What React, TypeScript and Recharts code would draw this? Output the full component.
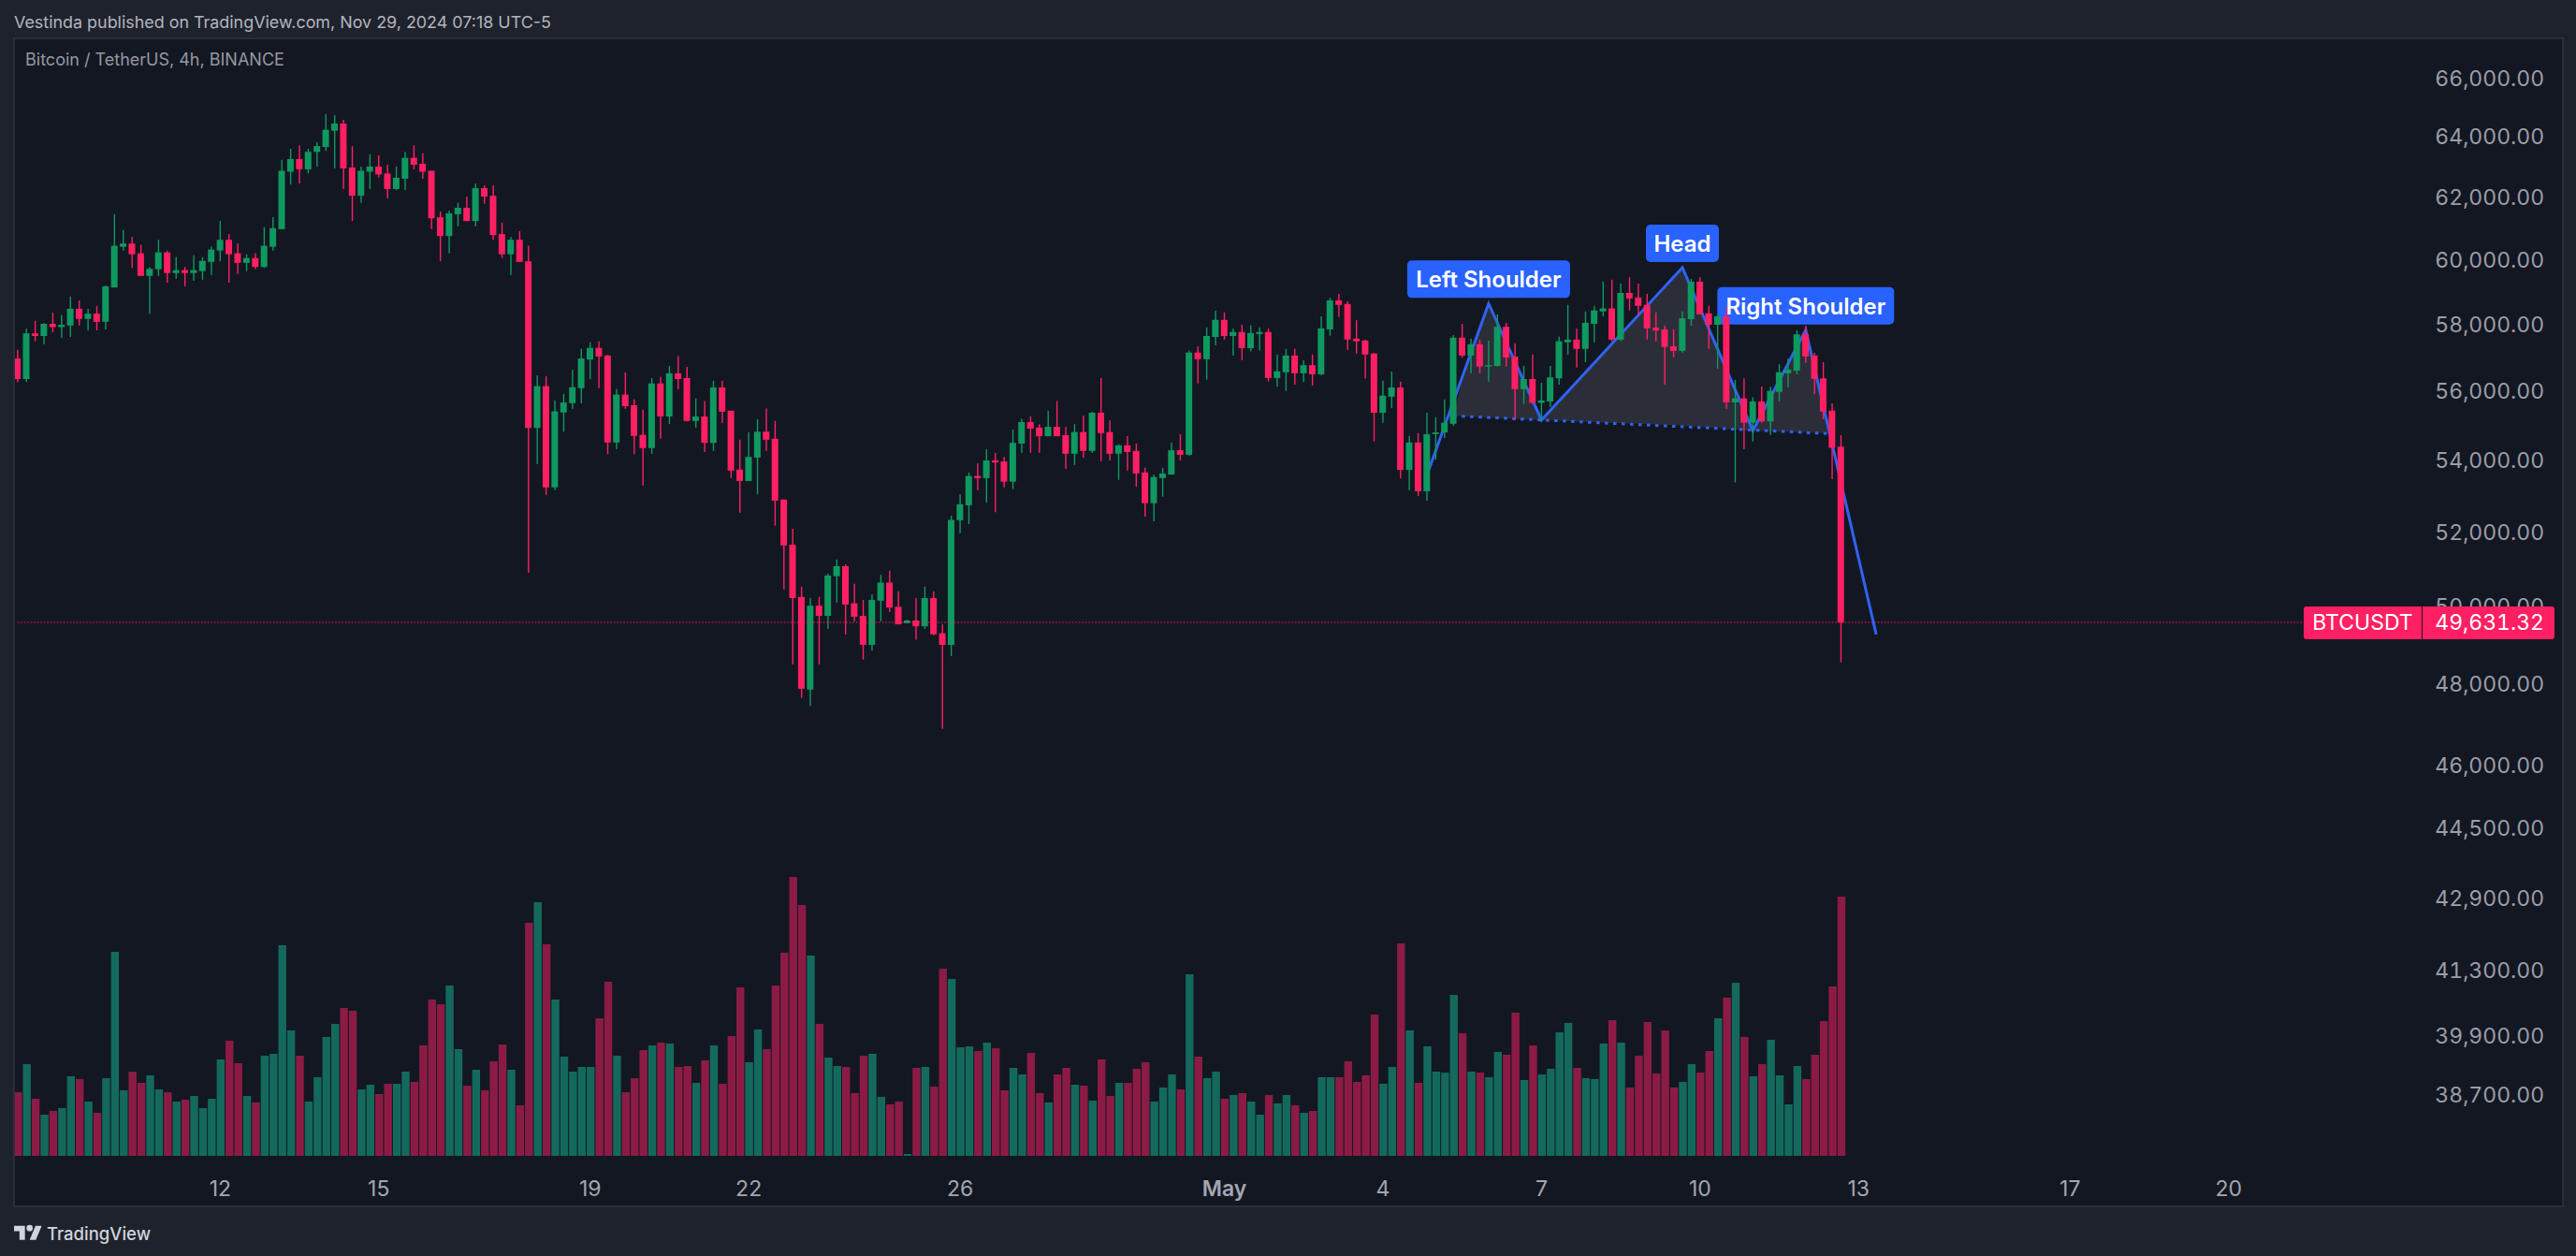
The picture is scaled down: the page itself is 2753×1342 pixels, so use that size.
import React from 'react';
import {
  ComposedChart,
  Bar,
  Line,
  Area,
  Cell,
  XAxis,
  YAxis,
  ReferenceLine,
  ReferenceDot,
} from 'recharts';

const opens = [
  57010, 56400, 57770, 57690, 58060, 57960, 58010, 58520, 58210, 58370,
  58120, 59180, 60460, 60560, 60250, 59540, 59750, 60280, 59630, 59720,
  59630, 59690, 59980, 60340, 60680, 60250, 59950, 60100, 59820, 60460,
  61020, 62890, 63310, 62970, 63550, 63710, 64260, 64500, 63030, 62100,
  62890, 63060, 62830, 62320, 62660, 63350, 63150, 62920, 61400, 60800,
  61500, 61710, 61280, 62350, 62100, 60860, 60220, 60680, 60000, 54970,
  56190, 53280, 55420, 55690, 56130, 56980, 57330, 57100, 54550, 55940,
  55630, 54770, 54390, 56270, 55300, 56570, 56430, 55170, 55300, 54540,
  56150, 55470, 53780, 53460, 54120, 54860, 54660, 52940, 51700, 50300,
  47910, 50070, 49800, 50850, 51120, 50130, 49800, 49050, 50200, 50680,
  50040, 49610, 49680, 49530, 50270, 49350, 49050, 52370, 52780, 53600,
  53540, 54040, 54010, 53440, 54520, 55140, 54980, 54730, 55000, 54760,
  54230, 54850, 54310, 55410, 54850, 54230, 54470, 54310, 53700, 52840,
  53540, 53640, 54330, 54200, 57190, 56990, 57660, 58180, 57690, 57810,
  57320, 57750, 57810, 56430, 56600, 57100, 56570, 56810, 56540, 57890,
  58780, 58670, 57610, 57550, 57160, 55410, 55880, 56150, 53770, 54550,
  53170, 54790, 54840, 55090, 57640, 57100, 57440, 56770, 56790, 57970,
  57070, 56100, 56400, 55700, 55740, 56420, 57500, 57580, 57300, 58060,
  58440, 58530, 57580, 59010, 58870, 58640, 57940, 57890, 57380, 57240,
  58200, 59360, 58380, 58030, 58290, 55710, 55830, 55120, 55740, 55160,
  56020, 56570, 56650, 57740, 57100, 56420, 55470, 54430,
];

const highs = [
  57270, 57920, 58150, 58080, 58400, 58330, 58900, 58780, 58520, 58610,
  59240, 61500, 60990, 60770, 60520, 59820, 60680, 60340, 60130, 59820,
  60190, 60130, 60460, 61280, 60860, 60560, 60220, 60250, 61080, 61410,
  63280, 63650, 63770, 63650, 63870, 64830, 64790, 64630, 63740, 63060,
  63470, 63440, 63120, 63060, 63550, 63770, 63500, 62920, 61590, 61620,
  61870, 62070, 62500, 62440, 62440, 61230, 60770, 60960, 60490, 56510,
  56480, 55770, 55960, 56680, 57300, 57500, 57530, 57130, 56100, 56600,
  55800, 55500, 56430, 56460, 56790, 57080, 56760, 55830, 55750, 56350,
  56350, 55470, 54630, 54850, 55220, 55530, 55170, 52940, 52130, 50570,
  50270, 50300, 50920, 51300, 51170, 50650, 50220, 50370, 50890, 51000,
  50450, 49700, 50270, 50570, 50450, 49580, 52490, 53090, 53700, 53960,
  54360, 54250, 54140, 54920, 55240, 55300, 55080, 55470, 55750, 55000,
  55080, 55330, 55440, 56430, 55190, 54500, 54730, 54520, 53830, 53640,
  53830, 54550, 54790, 57250, 57380, 57950, 58460, 58410, 57920, 58030,
  58010, 57950, 57920, 57130, 57300, 57300, 56960, 57130, 58290, 58860,
  58980, 58750, 58170, 57580, 57180, 56350, 56620, 56320, 54740, 54820,
  55410, 55280, 55800, 57720, 58060, 57610, 57580, 57550, 58350, 58090,
  57470, 56790, 57130, 56290, 56790, 57670, 58640, 57920, 58440, 58610,
  59360, 59420, 59300, 59500, 59300, 58980, 58410, 58000, 57890, 58440,
  59450, 59500, 58610, 58320, 58580, 56380, 56420, 55860, 56180, 56180,
  56840, 57010, 57860, 58000, 57180, 56900, 55680, 54760,
];

const lows = [
  56310, 56310, 57530, 57440, 57800, 57630, 57660, 58010, 57860, 57860,
  57890, 59180, 60340, 59790, 59540, 58370, 59540, 59330, 59450, 59210,
  59390, 59420, 59570, 60000, 59330, 59600, 59690, 59750, 59790, 60340,
  61020, 62470, 62500, 62830, 63060, 63580, 63000, 62320, 61280, 61870,
  62320, 62700, 62010, 62290, 62290, 62970, 62660, 61020, 60000, 60250,
  61110, 61280, 61110, 61840, 60680, 60100, 59570, 59980, 50940, 53940,
  53070, 53200, 54860, 55520, 55690, 56400, 56130, 54220, 54360, 55520,
  54220, 53330, 54230, 54660, 55080, 56100, 55160, 54980, 54280, 54310,
  55110, 53540, 52570, 53460, 53090, 54310, 52220, 50500, 48550, 47700,
  47500, 48550, 49460, 50150, 49320, 49660, 48670, 48900, 49660, 49900,
  49580, 49610, 49180, 49460, 49300, 46930, 48760, 52010, 52260, 53200,
  52860, 52590, 53280, 53230, 54250, 54250, 54250, 54730, 54730, 53800,
  53910, 54120, 54250, 54010, 54040, 53490, 53750, 53300, 52470, 52340,
  53020, 53640, 54040, 54170, 56270, 56380, 57410, 57580, 57100, 56960,
  57220, 57250, 56330, 56180, 56050, 56230, 56310, 56210, 56510, 57700,
  58270, 57270, 57160, 56420, 54580, 55120, 55550, 53530, 53200, 53040,
  52910, 54060, 54680, 55030, 57040, 56570, 56570, 56320, 56770, 56770,
  55190, 55670, 55670, 55160, 55580, 56230, 57130, 56740, 56900, 57500,
  58290, 57530, 57530, 58470, 58320, 57580, 57530, 56230, 57040, 57190,
  58000, 58350, 57300, 56710, 55520, 53420, 54360, 54580, 55120, 54770,
  55740, 56150, 56540, 56880, 55960, 55220, 53510, 48600,
];

const closes = [
  56400, 57770, 57690, 58060, 57960, 58030, 58520, 58210, 58370, 58120,
  59210, 60490, 60560, 60220, 59540, 59760, 60280, 59630, 59720, 59630,
  59720, 60010, 60370, 60680, 60220, 59950, 60100, 59820, 60490, 61050,
  62920, 63310, 62970, 63550, 63740, 64290, 64500, 63000, 62100, 62920,
  63060, 62800, 62320, 62690, 63350, 63120, 62890, 61370, 60800, 61530,
  61710, 61280, 62350, 62070, 60830, 60220, 60680, 59980, 54970, 56190,
  53280, 55450, 55710, 56160, 57010, 57330, 57070, 54550, 55940, 55600,
  54740, 54390, 56270, 55300, 56570, 56400, 55170, 55300, 54540, 56150,
  55440, 53750, 53460, 54140, 54860, 54630, 52910, 51680, 50270, 47930,
  50070, 49800, 50870, 51120, 50100, 49780, 49050, 50220, 50680, 50020,
  49580, 49680, 49530, 50270, 49320, 49050, 52380, 52810, 53600, 53540,
  54040, 53980, 53440, 54540, 55140, 54950, 54730, 55000, 54730, 54230,
  54850, 54310, 55410, 54820, 54230, 54470, 54280, 53670, 52840, 53570,
  53670, 54330, 54200, 57190, 56990, 57690, 58180, 57690, 57810, 57320,
  57780, 57810, 56430, 56630, 57100, 56570, 56810, 56540, 57920, 58780,
  58640, 57580, 57530, 57130, 55410, 55910, 56150, 53770, 54550, 53170,
  54790, 54840, 55120, 57640, 57100, 57440, 56770, 56810, 57970, 57040,
  56100, 56400, 55700, 55770, 56450, 57530, 57580, 57300, 58090, 58470,
  58530, 57580, 59010, 58840, 58610, 57920, 57860, 57360, 57240, 58230,
  59360, 58350, 58030, 58290, 55710, 55830, 55120, 55740, 55160, 56050,
  56600, 56680, 57740, 57070, 56400, 55440, 54400, 49631.32,
];

// hundreds of BTC
const volumes = [
  204, 294, 183, 132, 144, 153, 255, 246, 174, 138,
  249, 654, 210, 270, 234, 258, 213, 204, 174, 180,
  192, 153, 183, 309, 369, 297, 192, 171, 321, 327,
  675, 402, 321, 174, 252, 381, 423, 474, 465, 213,
  228, 198, 231, 231, 270, 237, 354, 501, 486, 546,
  342, 225, 276, 210, 303, 357, 276, 162, 747, 813,
  678, 501, 318, 270, 285, 285, 441, 558, 321, 204,
  249, 339, 354, 363, 360, 285, 288, 234, 306, 354,
  231, 384, 540, 300, 405, 342, 546, 651, 894, 804,
  642, 423, 315, 288, 285, 201, 321, 327, 189, 165,
  174, 6, 282, 285, 222, 600, 567, 348, 351, 336,
  363, 345, 210, 282, 261, 330, 201, 171, 261, 282,
  228, 225, 177, 309, 192, 234, 234, 279, 300, 174,
  219, 261, 213, 582, 318, 249, 270, 183, 195, 201,
  174, 132, 195, 168, 195, 162, 138, 144, 252, 252,
  252, 303, 237, 258, 453, 231, 285, 681, 402, 234,
  351, 270, 267, 516, 393, 270, 267, 252, 333, 324,
  459, 243, 354, 261, 279, 396, 426, 282, 249, 246,
  360, 435, 363, 219, 321, 429, 264, 402, 219, 237,
  294, 267, 336, 441, 507, 555, 381, 255, 294, 372,
  258, 165, 288, 246, 324, 432, 543, 831,
];

const priceTicks = [66000, 64000, 62000, 60000, 58000, 56000, 54000, 52000, 50000, 48000, 46000, 44500, 42900, 41300, 39900, 38700];
const timeSlots = [23, 41, 65, 83, 107, 137, 155, 173, 191, 209, 233, 251];
const timeLabels = ['12', '15', '19', '22', '26', 'May', '4', '7', '10', '13', '17', '20'];

// head and shoulders drawing, [bar, price]
const patternPoints = [[160, 53625], [167, 58680], [173, 55200], [189, 59800], [197, 54890], [203, 57870], [211, 49320]];
const necklinePoints = [[163, 55320], [206, 54800]];
const shadePoints = [
  [163, 55320, 55320],
  [164, 55310, 56410],
  [167, 55270, 58680],
  [173, 55200, 55200],
  [189, 55040, 59800],
  [197, 54890, 54890],
  [203, 54850, 57870],
  [205, 54820, 55600],
  [206, 54800, 54800],
];
const patternLabels = [
  { slot: 167, price: 58680, text: 'Left Shoulder', width: 174 },
  { slot: 189, price: 59800, text: 'Head', width: 78 },
  { slot: 203, price: 57870, text: 'Right Shoulder', width: 189 },
];

const SLOTS = 290;
const LAST_PRICE = 49631.32;
const UP = '#0f9960';
const DOWN = '#ff1f62';
const VOL_UP = '#136a5c';
const VOL_DOWN = '#8b1b45';
const BLUE = '#2f63f5';
const FONT = 'Inter, "Noto Sans", sans-serif';

const rows = Array.from({ length: SLOTS }, (_, i) => {
  const row: any = { slot: i };
  if (i < opens.length) {
    row.body = [Math.min(opens[i], closes[i]), Math.max(opens[i], closes[i])];
    row.wick = [lows[i], highs[i]];
    row.volume = volumes[i];
    row.up = closes[i] >= opens[i];
  }
  return row;
});
patternPoints.forEach(([s, p]) => { rows[s].pattern = p; });
necklinePoints.forEach(([s, p]) => { rows[s].neck = p; });
shadePoints.forEach(([s, a, b]) => { rows[s].shade = [a, b]; });

const PriceTick = ({ x, y, payload }: any) => (
  <text x={x - 17} y={y + 6.5} textAnchor="end" fontSize={23} fontFamily={FONT} fill="#9b9ea8" style={{ fontVariantNumeric: 'tabular-nums' }}>
    {payload.value.toLocaleString('en-US', { minimumFractionDigits: 2 })}
  </text>
);

const TimeTick = ({ x, y, payload }: any) => {
  const label = timeLabels[timeSlots.indexOf(payload.value)];
  return (
    <text x={x} y={y + 35} textAnchor="middle" fontSize={23} fontWeight={label === 'May' ? 600 : 400} fontFamily={FONT} fill="#a3a6b0">
      {label}
    </text>
  );
};

const labelShape = (text: string, width: number) => ({ cx, cy }: any) => (
  <g>
    <rect x={cx - width / 2} y={cy - 46} width={width} height={40} rx={5} fill="#2962ff" />
    <text x={cx} y={cy - 17} textAnchor="middle" fontSize={24} fontWeight={600} fontFamily={FONT} fill="#ffffff">
      {text}
    </text>
  </g>
);

const box = (left: number, top: number, width: number, height: number, extra = {}): React.CSSProperties => ({
  position: 'absolute', left, top, width, height, ...extra,
});

const App = () => (
  <div style={box(0, 0, 2753, 1342, { background: '#1e222d', overflow: 'hidden', fontFamily: FONT })}>
    <div style={box(15, 41, 2723, 1247, { background: '#131722' })} />

    <div style={{ position: 'absolute', left: 0, top: 0 }}>
      <ComposedChart
        width={2753}
        height={1342}
        data={rows}
        margin={{ top: 42, right: 8.9, bottom: 54, left: 14.1 }}
        barCategoryGap={0}
      >
        <XAxis
          xAxisId="main"
          dataKey="slot"
          height={53}
          ticks={timeSlots}
          interval={0}
          axisLine={false}
          tickLine={false}
          tick={<TimeTick />}
        />
        <XAxis xAxisId="wick" dataKey="slot" hide />
        <XAxis xAxisId="vol" dataKey="slot" hide />
        <YAxis
          yAxisId="price"
          orientation="right"
          mirror
          scale="log"
          type="number"
          domain={[37502, 67419]}
          allowDataOverflow
          ticks={priceTicks}
          interval={0}
          axisLine={false}
          tickLine={false}
          tick={<PriceTick />}
        />
        <YAxis yAxisId="vol" orientation="left" hide type="number" domain={[0, 3579]} />

        <Bar xAxisId="vol" yAxisId="vol" dataKey="volume" barSize={8.4} isAnimationActive={false}>
          {rows.map(r => <Cell key={r.slot} fill={r.up ? VOL_UP : VOL_DOWN} />)}
        </Bar>

        <Area xAxisId="main" yAxisId="price" dataKey="shade" connectNulls stroke="none" fill="#2b2e39" fillOpacity={1} dot={false} activeDot={false} isAnimationActive={false} />
        <Line xAxisId="main" yAxisId="price" dataKey="neck" connectNulls stroke={BLUE} strokeWidth={3} strokeDasharray="3.5 5.5" dot={false} activeDot={false} isAnimationActive={false} zIndex={150} />
        <Line xAxisId="main" yAxisId="price" dataKey="pattern" connectNulls stroke={BLUE} strokeWidth={3} dot={false} activeDot={false} isAnimationActive={false} zIndex={150} />

        {patternLabels.map(l => (
          <ReferenceDot
            key={l.text}
            xAxisId="main"
            yAxisId="price"
            x={l.slot}
            y={l.price}
            r={0}
            ifOverflow="visible"
            zIndex={160}
            shape={labelShape(l.text, l.width)}
          />
        ))}

        <ReferenceLine
          xAxisId="main"
          yAxisId="price"
          segment={[{ x: 0, y: LAST_PRICE }, { x: 260, y: LAST_PRICE }]}
          stroke={DOWN}
          strokeWidth={1.2}
          strokeDasharray="1.5 2"
        />

        <Bar xAxisId="wick" yAxisId="price" dataKey="wick" barSize={1.4} isAnimationActive={false}>
          {rows.map(r => <Cell key={r.slot} fill={r.up ? UP : DOWN} />)}
        </Bar>
        <Bar xAxisId="main" yAxisId="price" dataKey="body" barSize={7} isAnimationActive={false}>
          {rows.map(r => <Cell key={r.slot} fill={r.up ? UP : DOWN} />)}
        </Bar>
      </ComposedChart>
    </div>

    {/* frame over the chart edges */}
    <div style={box(0, 0, 2753, 40, { background: '#1e222d' })} />
    <div style={box(0, 0, 14, 1342, { background: '#1e222d' })} />
    <div style={box(2740, 0, 13, 1342, { background: '#1e222d' })} />
    <div style={box(0, 1290, 2753, 52, { background: '#1e222d' })} />
    <div style={box(14, 40, 2726, 1250, { border: '2px solid #2a2e39', boxSizing: 'border-box' })} />

    <div style={box(15, 10, 900, 28, { color: '#b2b5be', fontSize: 17.9, lineHeight: '28px', whiteSpace: 'nowrap' })}>
      Vestinda published on TradingView.com, Nov 29, 2024 07:18 UTC-5
    </div>
    <div style={box(27, 50, 600, 28, { color: '#9598a1', fontSize: 18, lineHeight: '28px', whiteSpace: 'nowrap' })}>
      Bitcoin / TetherUS, 4h, BINANCE
    </div>

    <div style={box(2462, 648, 126, 35, { background: DOWN, borderRadius: '3px 0 0 3px', color: '#fff', fontSize: 23, lineHeight: '35px', textAlign: 'center' })}>
      BTCUSDT
    </div>
    <div style={box(2589, 648, 141, 35, { background: DOWN, borderRadius: '0 3px 3px 0', color: '#fff', fontSize: 23, lineHeight: '34px', textAlign: 'right', paddingRight: 11, boxSizing: 'border-box', fontVariantNumeric: 'tabular-nums' })}>
      49,631.32
    </div>

    <svg style={box(15, 1306, 30, 24)} viewBox="0 0 36 28">
      <path d="M14 22H7V11H0V4h14v18zM28 22h-8l7.5-18h8L28 22z" fill="#d1d4dc" />
      <circle cx="20" cy="7" r="4" fill="#d1d4dc" />
    </svg>
    <div style={box(50, 1303, 200, 30, { color: '#d1d4dc', fontSize: 18.5, lineHeight: '30px', fontWeight: 500 })}>
      TradingView
    </div>
  </div>
);

export default App;
